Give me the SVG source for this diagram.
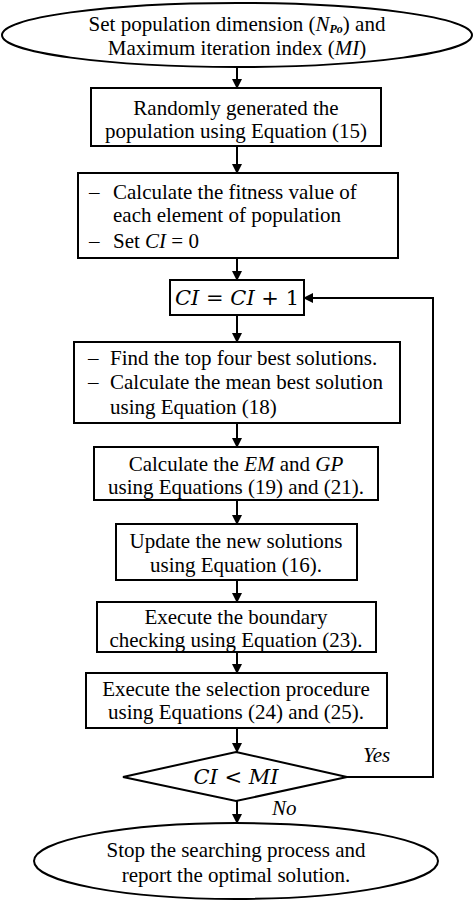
<svg xmlns="http://www.w3.org/2000/svg" width="474" height="902" viewBox="0 0 474 902">
<defs>
<marker id="ah" markerWidth="10" markerHeight="10" refX="9" refY="5" orient="auto" markerUnits="userSpaceOnUse">
<path d="M0,0 L10,5 L0,10 Z" fill="#000"/>
</marker>
<style>
.s{fill:#fff;stroke:#000;stroke-width:2}
.t{font-family:"Liberation Serif","Times New Roman",serif;font-size:21px;fill:#000}
.c{text-anchor:middle}
.i{font-style:italic}
.m{font-family:"DejaVu Serif","Liberation Serif",serif;font-style:italic}
.e{fill:none;stroke:#000;stroke-width:2}
</style>
</defs>
<rect width="474" height="902" fill="#fff"/>
<g id="connectors">
<line class="e" x1="237" y1="67" x2="237" y2="88" marker-end="url(#ah)"/>
<line class="e" x1="237" y1="146" x2="237" y2="173" marker-end="url(#ah)"/>
<line class="e" x1="237" y1="258" x2="237" y2="280" marker-end="url(#ah)"/>
<line class="e" x1="237" y1="315" x2="237" y2="342" marker-end="url(#ah)"/>
<line class="e" x1="237" y1="423" x2="237" y2="447" marker-end="url(#ah)"/>
<line class="e" x1="237" y1="500" x2="237" y2="524" marker-end="url(#ah)"/>
<line class="e" x1="237" y1="580" x2="237" y2="602" marker-end="url(#ah)"/>
<line class="e" x1="237" y1="652" x2="237" y2="673" marker-end="url(#ah)"/>
<line class="e" x1="237" y1="728" x2="237" y2="752" marker-end="url(#ah)"/>
<line class="e" x1="237" y1="801" x2="237" y2="823" marker-end="url(#ah)"/>
<polyline class="e" points="347,777 433,777 433,298 304,298" marker-end="url(#ah)"/>
<text class="t i" x="363" y="762">Yes</text>
<text class="t i" x="272" y="815">No</text>
</g>
<g id="start">
<ellipse class="s" cx="237" cy="35" rx="235" ry="32"/>
<text class="t c" x="237" y="31">Set population dimension (<tspan class="i">N</tspan><tspan class="i" font-weight="bold" font-size="12" dy="2">Po</tspan><tspan dy="-2">) and</tspan></text>
<text class="t c" x="237" y="55">Maximum iteration index (<tspan class="i">MI</tspan>)</text>
</g>
<g id="init">
<rect class="s" x="91" y="88" width="290" height="58"/>
<text class="t c" x="236" y="115">Randomly generated the</text>
<text class="t c" x="236" y="138">population using Equation (15)</text>
</g>
<g id="fitness">
<rect class="s" x="78" y="173" width="320" height="85"/>
<text class="t" x="89" y="199">–</text>
<text class="t" x="113" y="199">Calculate the fitness value of</text>
<text class="t" x="113" y="222">each element of population</text>
<text class="t" x="89" y="248">–</text>
<text class="t" x="113" y="248">Set <tspan class="i">CI</tspan> = 0</text>
</g>
<g id="increment">
<rect class="s" x="170" y="280" width="134" height="35"/>
<text class="t c m" x="237" y="305" font-size="20">CI <tspan font-style="normal">=</tspan> CI <tspan font-style="normal">+ 1</tspan></text>
</g>
<g id="best">
<rect class="s" x="74" y="342" width="326" height="81"/>
<text class="t" x="88" y="365">–</text>
<text class="t" x="110" y="365">Find the top four best solutions.</text>
<text class="t" x="88" y="389">–</text>
<text class="t" x="110" y="389">Calculate the mean best solution</text>
<text class="t" x="110" y="414">using Equation (18)</text>
</g>
<g id="emgp">
<rect class="s" x="94" y="447" width="284" height="53"/>
<text class="t c" x="236" y="471">Calculate the <tspan class="i">EM</tspan> and <tspan class="i">GP</tspan></text>
<text class="t c" x="236" y="494">using Equations (19) and (21).</text>
</g>
<g id="update">
<rect class="s" x="116" y="524" width="241" height="56"/>
<text class="t c" x="236" y="548">Update the new solutions</text>
<text class="t c" x="236" y="572">using Equation (16).</text>
</g>
<g id="boundary">
<rect class="s" x="97" y="602" width="279" height="50"/>
<text class="t c" x="236" y="624">Execute the boundary</text>
<text class="t c" x="236" y="647">checking using Equation (23).</text>
</g>
<g id="selection">
<rect class="s" x="86" y="673" width="301" height="55"/>
<text class="t c" x="236" y="696">Execute the selection procedure</text>
<text class="t c" x="236" y="719">using Equations (24) and (25).</text>
</g>
<g id="decision">
<polygon class="s" points="236,752 347,777 236,801 123,777"/>
<text class="t c m" x="236" y="784" font-size="19">CI <tspan font-style="normal">&lt;</tspan> MI</text>
</g>
<g id="end">
<ellipse class="s" cx="236" cy="861" rx="202" ry="38"/>
<text class="t c" x="236" y="857">Stop the searching process and</text>
<text class="t c" x="236" y="882">report the optimal solution.</text>
</g>
</svg>
